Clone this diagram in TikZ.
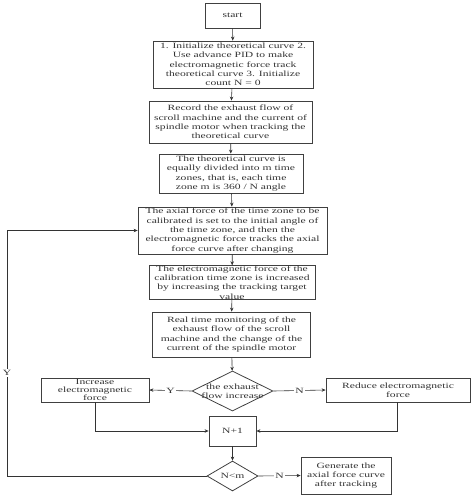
\documentclass[tikz,border=0pt]{standalone}
\usepackage{fontspec}
\setmainfont{Liberation Serif}[FakeStretch=1.45]
\usetikzlibrary{shapes.geometric,arrows.meta}
\begin{document}
\begin{tikzpicture}[x=1pt,y=-1pt,
 box/.style={draw=black!75,line width=0.8pt,align=center,font=\fontsize{8}{9.3}\selectfont,text=black!80,inner sep=0pt},
 dia/.style={draw=black!75,line width=0.8pt,shape=diamond,inner sep=0pt},
 dtext/.style={align=center,font=\fontsize{8}{9.3}\selectfont,text=black!80,inner sep=0pt},
 conn/.style={draw=black!80,line width=0.6pt},
 arr/.style={conn,-{Stealth[length=4pt,width=3.5pt]}},
 lab/.style={fill=white,inner sep=1pt,font=\fontsize{8}{9}\selectfont,text=black!80}]
\useasboundingbox (0,0) rectangle (474,499);
\node[box,minimum width=55,minimum height=25] (start) at (232.5,15.5) {start};
\node[box,minimum width=160,minimum height=47] (b1) at (233,64.5) {1. Initialize theoretical curve 2.\\Use advance PID to make\\electromagnetic force track\\theoretical curve 3. Initialize\\count N = 0};
\node[box,minimum width=163,minimum height=42] (b2) at (230.5,122) {Record the exhaust flow of\\scroll machine and the current of\\spindle motor when tracking the\\theoretical curve};
\node[box,minimum width=144,minimum height=39] (b3) at (231,173.5) {The theoretical curve is\\equally divided into m time\\zones, that is, each time\\zone m is 360 / N angle};
\node[box,minimum width=189,minimum height=47] (b4) at (232.5,230.5) {The axial force of the time zone to be\\calibrated is set to the initial angle of\\the time zone, and then the\\electromagnetic force tracks the axial\\force curve after changing};
\node[box,minimum width=166,minimum height=33] (b5) at (232,282.5) {The electromagnetic force of the\\calibration time zone is increased\\by increasing the tracking target\\value};
\node[box,minimum width=158,minimum height=45] (b6) at (231.5,334.5) {Real time monitoring of the\\exhaust flow of the scroll\\machine and the change of the\\current of the spindle motor};
\node[dia,minimum width=81,minimum height=40] (d1) at (232.5,391) {};
\node[dtext] (d1t) at (232.5,391) {the exhaust\\flow increase};
\node[box,minimum width=108,minimum height=24,font=\fontsize{8}{8.3}\selectfont] (inc) at (95,390) {Increase\\electromagnetic\\force};
\node[box,minimum width=144,minimum height=24] (red) at (398,390) {Reduce electromagnetic\\force};
\node[box,minimum width=47,minimum height=30] (n1) at (232.5,431) {N+1};
\node[dia,minimum width=51,minimum height=30] (d2) at (232.5,476) {};
\node[dtext] (d2t) at (232.5,476) {N<m};
\node[box,minimum width=90,minimum height=37] (gen) at (346,475.5) {Generate the\\axial force curve\\after tracking};
\coordinate (lb) at (7,476);
\coordinate (lt) at (7,230.5);
\coordinate (ib) at (95,431);
\coordinate (rb) at (397,431);
\draw[arr] (start) -- (b1);
\draw[arr] (b1) -- (b2);
\draw[arr] (b2) -- (b3);
\draw[arr] (b3) -- (b4);
\draw[arr] (b4) -- (b5);
\draw[arr] (b5) -- (b6);
\draw[arr] (b6) -- (d1);
\draw[arr] (d1.west) -- node[lab]{Y} (inc.east);
\draw[arr] (d1.east) -- node[lab]{N} (red.west);
\draw[arr] (inc.south) -- (ib) -- (n1.west);
\draw[arr] (red.south -| rb) -- (rb) -- (n1.east);
\draw[arr] (n1) -- (d2);
\draw[arr] (d2.east) -- node[lab]{N} (gen.west);
\draw[arr] (d2.west) -- (lb) -- node[lab,pos=0.42]{Y} (lt) -- (b4.west);
\end{tikzpicture}
\end{document}
